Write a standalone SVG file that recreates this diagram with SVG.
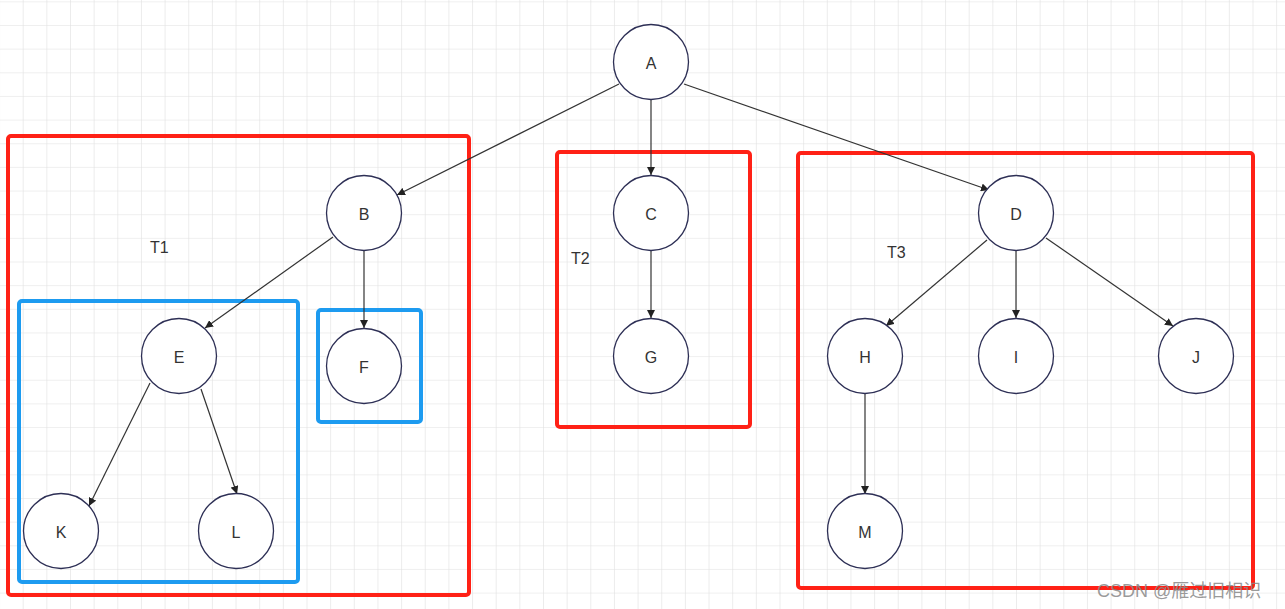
<svg xmlns="http://www.w3.org/2000/svg" width="1285" height="609" viewBox="0 0 1285 609">
<style>
.n circle{fill:#fff;stroke:#2d2f55;stroke-width:1.3}
.n text{font-family:"Liberation Sans",Arial,sans-serif;font-size:16px;fill:#333;text-anchor:middle;dominant-baseline:central}
.e line{stroke:#333;stroke-width:1.2;marker-end:url(#ah)}
.red{fill:none;stroke:#ff2116;stroke-width:4}
.blue{fill:none;stroke:#1d9bf0;stroke-width:4}
.lbl{font-family:"Liberation Sans",Arial,sans-serif;font-size:16px;fill:#333}
</style>
<defs>
<pattern id="grid" patternUnits="userSpaceOnUse" x="-0.95" y="1.35" width="23.65" height="23.65">
<path d="M0 0H23.65M0 0V23.65" fill="none" stroke="#e0e0e0" stroke-width="1.2"/>
</pattern>
<marker id="ah" viewBox="0 0 10 10" refX="10" refY="5" markerWidth="8" markerHeight="8" markerUnits="userSpaceOnUse" orient="auto">
<path d="M0 0L10 5L0 10z" fill="#222"/>
</marker>
</defs>
<rect width="1285" height="609" fill="#fff"/>
<rect width="1285" height="609" fill="url(#grid)"/>
<g id="groups">
<rect class="red" x="8" y="136" width="461" height="459" rx="3"/>
<rect class="red" x="557" y="152" width="193" height="275" rx="3"/>
<rect class="red" x="798" y="153" width="455" height="435" rx="3"/>
<rect class="blue" x="19" y="301" width="279" height="281" rx="3"/>
<rect class="blue" x="318" y="310" width="103" height="112" rx="3"/>
<text class="lbl" x="150" y="253">T1</text>
<text class="lbl" x="571" y="264">T2</text>
<text class="lbl" x="887" y="258">T3</text>
</g>
<g id="connectors" class="e">
<line x1="619" y1="84" x2="397" y2="195"/>
<line x1="651" y1="100" x2="651" y2="175"/>
<line x1="684" y1="84" x2="989" y2="190"/>
<line x1="333" y1="237" x2="205" y2="328"/>
<line x1="364" y1="251" x2="364" y2="328"/>
<line x1="651" y1="251" x2="651" y2="318"/>
<line x1="987" y1="240" x2="886" y2="326"/>
<line x1="1016" y1="251" x2="1016" y2="318"/>
<line x1="1046" y1="238" x2="1173" y2="326"/>
<line x1="150" y1="383" x2="89" y2="506"/>
<line x1="201" y1="389" x2="237" y2="494"/>
<line x1="865" y1="394" x2="865" y2="494"/>
</g>
<g id="A" class="n"><circle cx="651" cy="62" r="37.5"/><text x="651" y="63">A</text></g>
<g id="B" class="n"><circle cx="364" cy="213" r="37.5"/><text x="364" y="214">B</text></g>
<g id="C" class="n"><circle cx="651" cy="213" r="37.5"/><text x="651" y="214">C</text></g>
<g id="D" class="n"><circle cx="1016" cy="213" r="37.5"/><text x="1016" y="214">D</text></g>
<g id="E" class="n"><circle cx="179" cy="356" r="37.5"/><text x="179" y="357">E</text></g>
<g id="F" class="n"><circle cx="364" cy="366" r="37.5"/><text x="364" y="367">F</text></g>
<g id="G" class="n"><circle cx="651" cy="356" r="37.5"/><text x="651" y="357">G</text></g>
<g id="H" class="n"><circle cx="865" cy="356" r="37.5"/><text x="865" y="357">H</text></g>
<g id="I" class="n"><circle cx="1016" cy="356" r="37.5"/><text x="1016" y="357">I</text></g>
<g id="J" class="n"><circle cx="1196" cy="356" r="37.5"/><text x="1196" y="357">J</text></g>
<g id="K" class="n"><circle cx="61" cy="531" r="37.5"/><text x="61" y="532">K</text></g>
<g id="L" class="n"><circle cx="236" cy="531" r="37.5"/><text x="236" y="532">L</text></g>
<g id="M" class="n"><circle cx="865" cy="531" r="37.5"/><text x="865" y="532">M</text></g>
<text x="1097" y="597" font-family="'Liberation Sans','Noto Sans CJK SC',sans-serif" font-size="18" fill="#888" fill-opacity="0.85">CSDN @雁过旧相识</text>
</svg>
